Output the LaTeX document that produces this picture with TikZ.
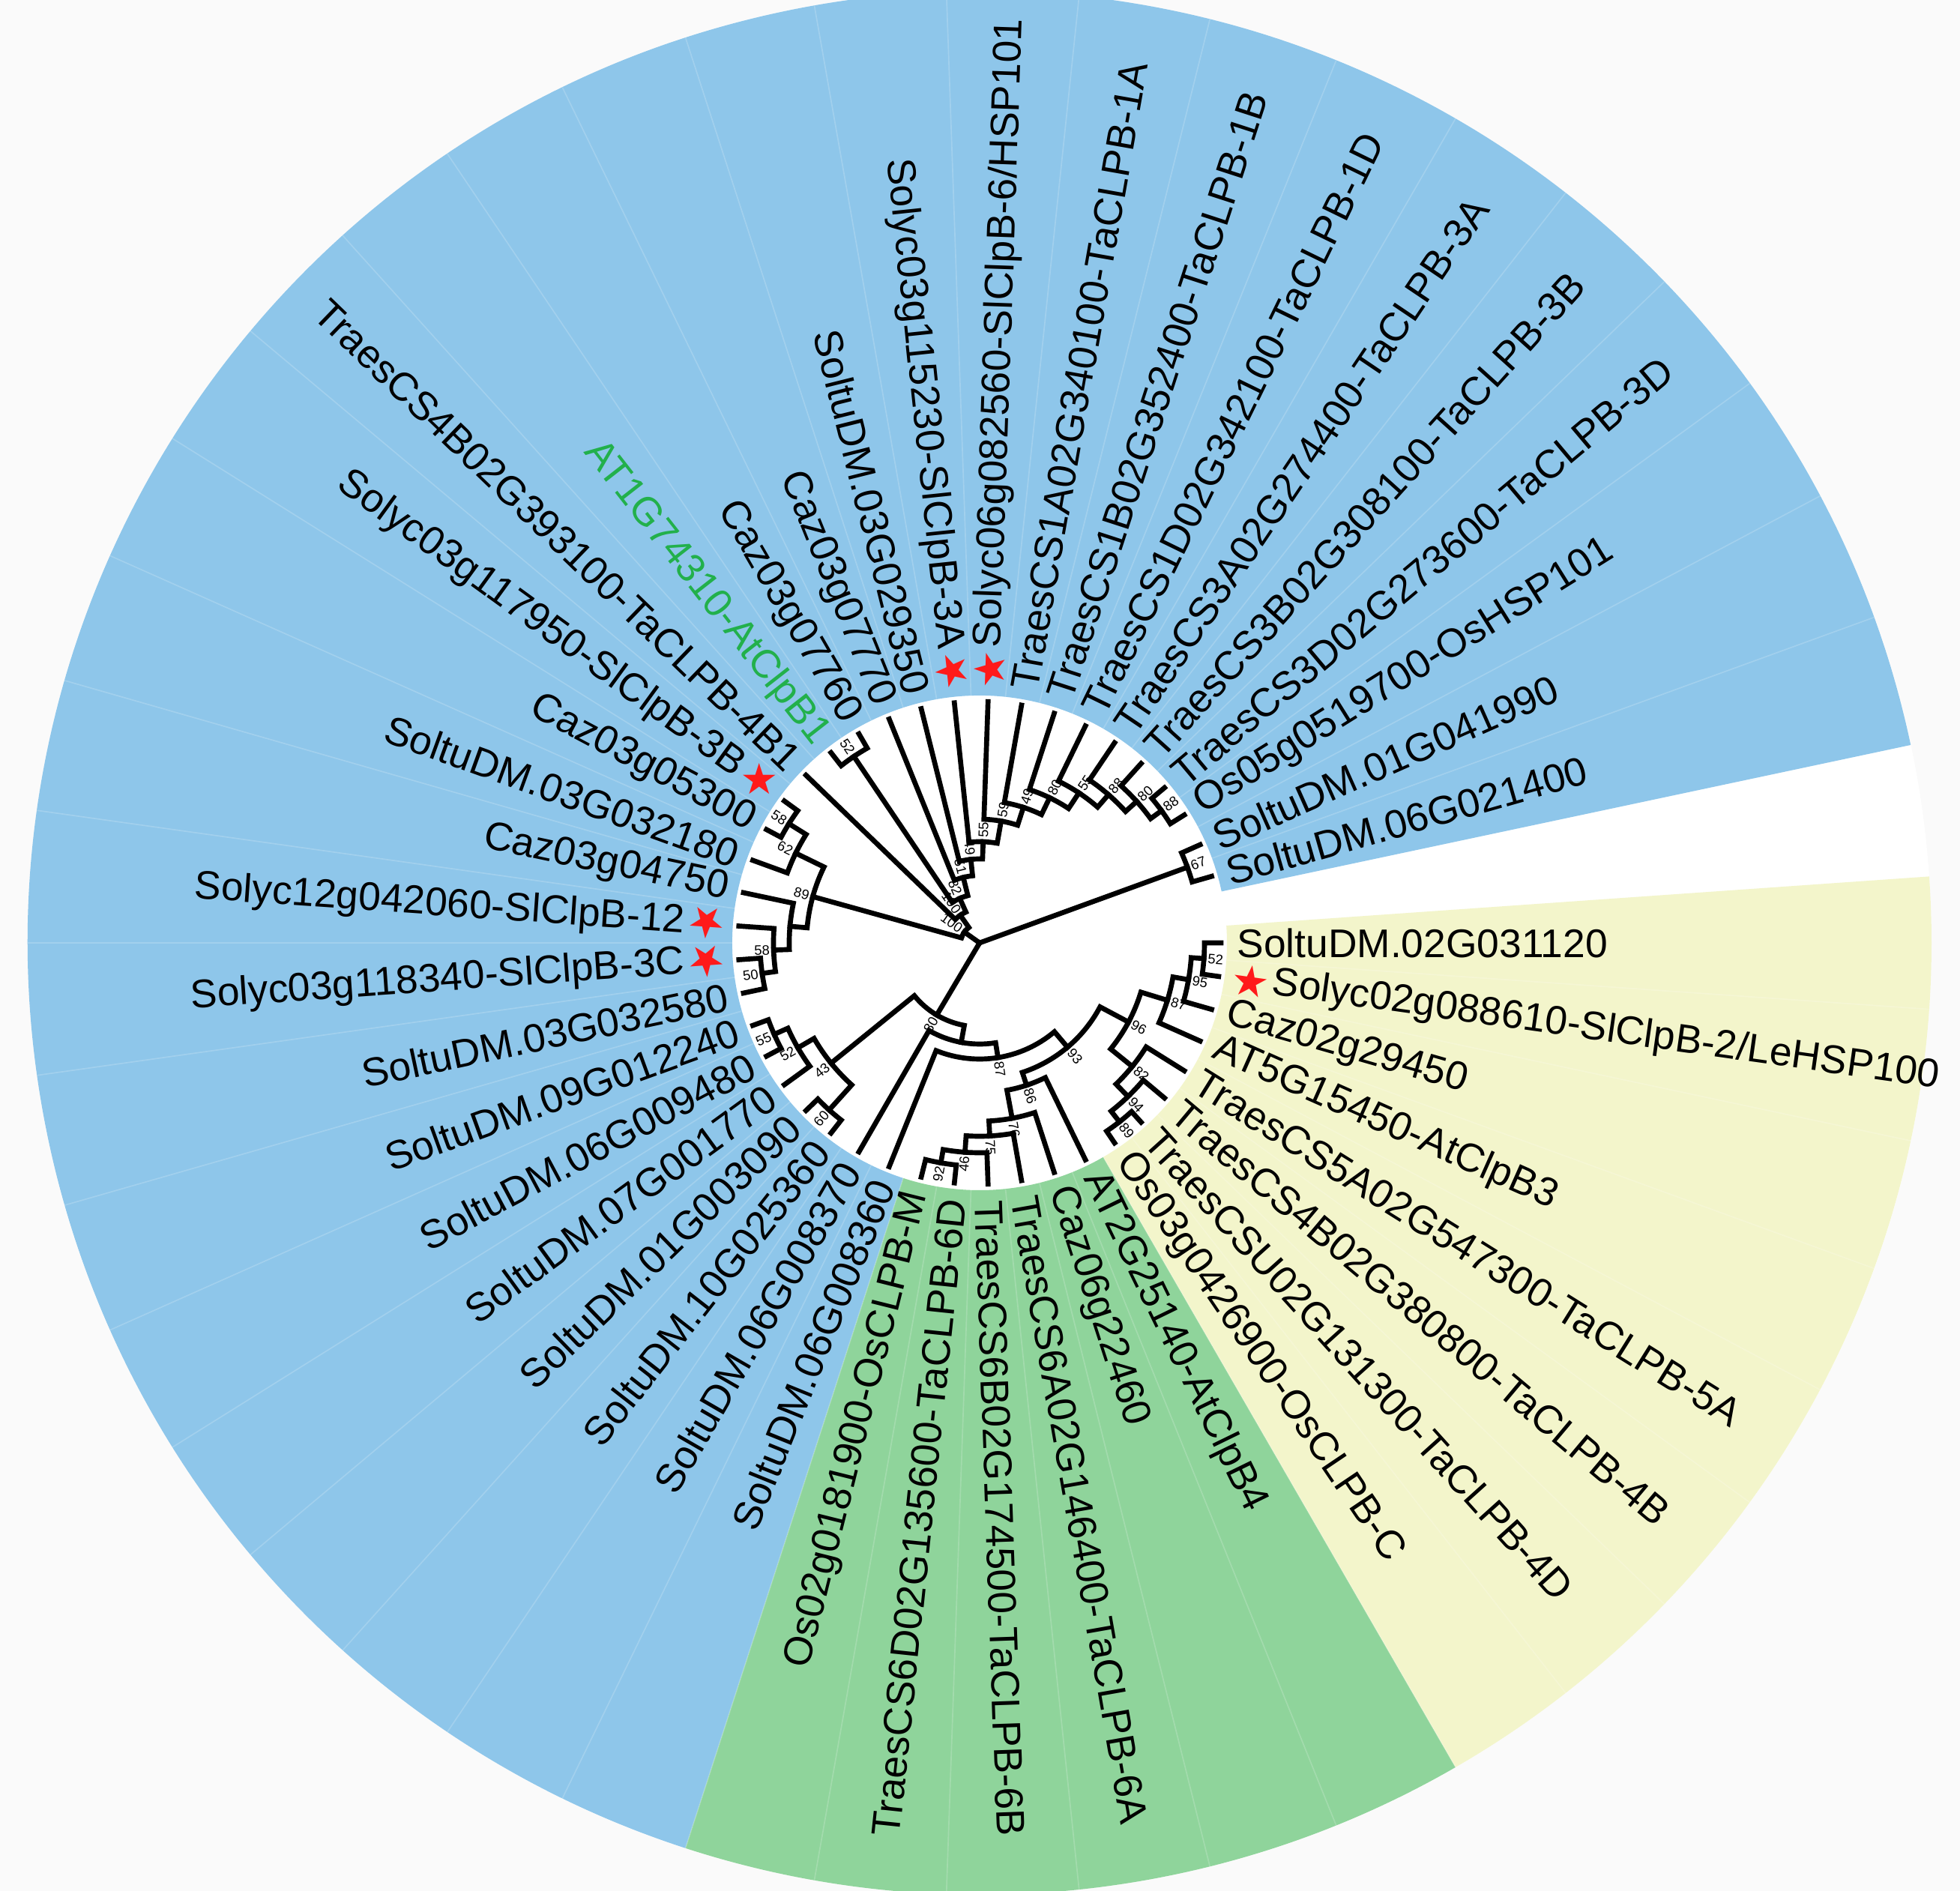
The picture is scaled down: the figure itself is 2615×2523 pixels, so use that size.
\documentclass[tikz,border=0pt]{standalone}
\usepackage{fontspec}
\setmainfont{Liberation Sans}
\newfontfamily\starfont{DejaVu Sans}
\definecolor{cblue}{HTML}{8EC6EA}
\definecolor{cgreen}{HTML}{8FD49B}
\definecolor{cyellow}{HTML}{F3F5CB}
\definecolor{cstar}{HTML}{FF1A1A}
\definecolor{ctext}{HTML}{22B04B}
\tikzset{
  br/.style={line width=2pt,line cap=rect,line join=miter},
  leaflab/.style={inner sep=0pt,font=\fontsize{16}{16}\selectfont},
  bslab/.style={inner sep=0.5pt,font=\fontsize{5.5}{5.5}\selectfont},
  starlab/.style={inner sep=0pt,text=cstar,font=\starfont\fontsize{17}{17}\selectfont},
  sep/.style={white,opacity=0.18,line width=0.5pt}
}
\newcommand\sector[3]{%
  \fill[#3] (#1:330) -- (#1:1270) arc[start angle=#1,end angle=#2,radius=381pt] -- (#2:330) arc[start angle=#2,end angle=#1,radius=99pt] -- cycle;}
\newcommand\leaf[4]{%
  \pgfmathsetmacro\th{-8*#1}%
  \pgfmathsetmacro\rr{#3==1 ? 394 : 343}%
  \pgfmathparse{cos(\th)>0 ? 1 : 0}%
  \ifnum\pgfmathresult=1
    \node[leaflab,text=#4,anchor=west,rotate=\th] (L#1) at (\th:\rr) {#2};
  \else
    \pgfmathsetmacro\thr{\th+180}%
    \node[leaflab,text=#4,anchor=east,rotate=\thr] (L#1) at (\th:\rr) {#2};
  \fi
  \ifnum#3=1 \node[starlab,rotate=\th] (S#1) at (\th:365) {★};\fi}
\newcommand\bs[3]{%
  \pgfmathsetmacro\bth{#2}%
  \pgfmathsetmacro\brr{#1+3}%
  \pgfmathparse{cos(\bth)>0 ? 1 : 0}%
  \ifnum\pgfmathresult=1
    \node[bslab,anchor=west,rotate=\bth] at (\bth:\brr) {#3};
  \else
    \pgfmathsetmacro\bthr{\bth+180}%
    \node[bslab,anchor=east,rotate=\bthr] at (\bth:\brr) {#3};
  \fi}
\newcommand\cl[7]{%
  \draw[br] (#3:#4) -- (#3:#1) arc[start angle=#3,end angle=#5,radius=#1*0.3pt] -- (#5:#6);
  \bs{#1}{#2}{#7}}
\begin{document}
\begin{tikzpicture}[x=0.3pt,y=0.3pt]
\useasboundingbox (-1307,-1265) rectangle (1308,1258);
\fill[white!98!black] (-1307,-1265) rectangle (1308,1258);
\fill[white] (0,0) circle[radius=381pt];
\sector{-348}{-108}{cblue}
\sector{-108}{-60}{cgreen}
\sector{-60}{4}{cyellow}
\foreach \k in {0,...,42}{\pgfmathsetmacro\bb{-8*\k-4}\draw[sep] (\bb:330) -- (\bb:1270);}
\leaf{0}{SoltuDM.02G031120}{0}{black}
\leaf{1}{Solyc02g088610-SlClpB-2/LeHSP100}{1}{black}
\leaf{2}{Caz02g29450}{0}{black}
\leaf{3}{AT5G15450-AtClpB3}{0}{black}
\leaf{4}{TraesCS5A02G547300-TaCLPB-5A}{0}{black}
\leaf{5}{TraesCS4B02G380800-TaCLPB-4B}{0}{black}
\leaf{6}{TraesCSU02G131300-TaCLPB-4D}{0}{black}
\leaf{7}{Os03g0426900-OsCLPB-C}{0}{black}
\leaf{8}{AT2G25140-AtClpB4}{0}{black}
\leaf{9}{Caz06g22460}{0}{black}
\leaf{10}{TraesCS6A02G146400-TaCLPB-6A}{0}{black}
\leaf{11}{TraesCS6B02G174500-TaCLPB-6B}{0}{black}
\leaf{12}{TraesCS6D02G135600-TaCLPB-6D}{0}{black}
\leaf{13}{Os02g0181900-OsCLPB-M}{0}{black}
\leaf{14}{SoltuDM.06G008360}{0}{black}
\leaf{15}{SoltuDM.06G008370}{0}{black}
\leaf{16}{SoltuDM.10G025360}{0}{black}
\leaf{17}{SoltuDM.01G003090}{0}{black}
\leaf{18}{SoltuDM.07G001770}{0}{black}
\leaf{19}{SoltuDM.06G009480}{0}{black}
\leaf{20}{SoltuDM.09G012240}{0}{black}
\leaf{21}{SoltuDM.03G032580}{0}{black}
\leaf{22}{Solyc03g118340-SlClpB-3C}{1}{black}
\leaf{23}{Solyc12g042060-SlClpB-12}{1}{black}
\leaf{24}{Caz03g04750}{0}{black}
\leaf{25}{SoltuDM.03G032180}{0}{black}
\leaf{26}{Caz03g05300}{0}{black}
\leaf{27}{Solyc03g117950-SlClpB-3B}{1}{black}
\leaf{28}{TraesCS4B02G393100-TaCLPB-4B1}{0}{black}
\leaf{29}{AT1G74310-AtClpB1}{0}{ctext}
\leaf{30}{Caz03g07760}{0}{black}
\leaf{31}{Caz03g07770}{0}{black}
\leaf{32}{SoltuDM.03G029350}{0}{black}
\leaf{33}{Solyc03g115230-SlClpB-3A}{1}{black}
\leaf{34}{Solyc06g082560-SlClpB-6/HSP101}{1}{black}
\leaf{35}{TraesCS1A02G340100-TaCLPB-1A}{0}{black}
\leaf{36}{TraesCS1B02G352400-TaCLPB-1B}{0}{black}
\leaf{37}{TraesCS1D02G342100-TaCLPB-1D}{0}{black}
\leaf{38}{TraesCS3A02G274400-TaCLPB-3A}{0}{black}
\leaf{39}{TraesCS3B02G308100-TaCLPB-3B}{0}{black}
\leaf{40}{TraesCS3D02G273600-TaCLPB-3D}{0}{black}
\leaf{41}{Os05g0519700-OsHSP101}{0}{black}
\leaf{42}{SoltuDM.01G041990}{0}{black}
\leaf{43}{SoltuDM.06G021400}{0}{black}
\cl{300}{-324}{-320}{322}{-328}{322}{88}
\cl{282}{-318}{-312}{322}{-324}{300}{80}
\cl{262}{-311}{-304}{322}{-318}{282}{88}
\cl{240}{-303.5}{-296}{322}{-311}{262}{55}
\cl{215}{-295.75}{-288}{322}{-303.5}{240}{80}
\cl{190}{-287.9}{-280}{322}{-295.75}{215}{49}
\cl{165}{-280}{-272}{322}{-287.9}{190}{59}
\cl{135}{-272}{-264}{322}{-280}{165}{55}
\cl{112}{-264}{-256}{322}{-272}{135}{49}
\cl{90}{-256}{-248}{322}{-264}{112}{51}
\cl{300}{-236}{-232}{322}{-240}{322}{52}
\cl{65}{-246}{-236}{300}{-256}{90}{82}
\cl{45}{-235}{-224}{322}{-246}{65}{100}
\cl{293}{-172}{-168}{322}{-176}{322}{50}
\cl{275}{-178}{-184}{322}{-172}{293}{58}
\cl{254}{-185}{-192}{322}{-178}{275}{}
\cl{300}{-212}{-208}{322}{-216}{322}{58}
\cl{273}{-206}{-200}{322}{-212}{300}{62}
\cl{231}{-195.5}{-185}{254}{-206}{273}{89}
\cl{25}{-215.25}{-195.5}{231}{-235}{45}{100}
\cl{295}{-340}{-336}{322}{-344}{322}{67}
\cl{300}{-156}{-152}{322}{-160}{322}{55}
\cl{280}{-150}{-144}{322}{-156}{300}{52}
\cl{300}{-132}{-128}{322}{-136}{322}{60}
\cl{255}{-141}{-150}{280}{-132}{300}{43}
\cl{298}{-100}{-96}{322}{-104}{322}{92}
\cl{280}{-94}{-88}{322}{-100}{298}{46}
\cl{258}{-87}{-80}{322}{-94}{280}{75}
\cl{238}{-79.5}{-72}{322}{-87}{258}{76}
\cl{200}{-71.75}{-64}{322}{-79.5}{238}{86}
\cl{300}{-4}{0}{322}{-8}{322}{52}
\cl{283}{-10}{-16}{322}{-4}{300}{95}
\cl{262}{-17}{-24}{322}{-10}{283}{87}
\cl{303}{-52}{-48}{322}{-56}{322}{89}
\cl{285}{-46}{-40}{322}{-52}{303}{94}
\cl{262}{-39}{-32}{322}{-46}{285}{82}
\cl{225}{-28}{-17}{262}{-39}{262}{96}
\cl{182}{-49.9}{-71.75}{200}{-28}{225}{93}
\cl{155}{-80.9}{-112}{322}{-49.9}{182}{87}
\cl{135}{-100.5}{-120}{322}{-80.9}{155}{}
\cl{112}{-120.7}{-141}{255}{-100.5}{135}{80}
\coordinate (root) at (0,0);
\draw[br] (root) -- (-215.25:25);
\draw[br] (root) -- (-340:295);
\draw[br] (root) -- (-120.7:112);
\end{tikzpicture}
\end{document}
